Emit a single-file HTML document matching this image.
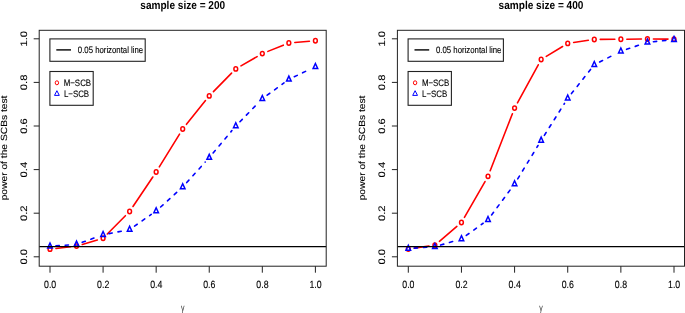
<!DOCTYPE html>
<html><head><meta charset="utf-8"><title>power of the SCBs test</title>
<style>html,body{margin:0;padding:0;background:#fff}svg{display:block}</style></head>
<body>
<svg width="685" height="313" viewBox="0 0 685 313" font-family="'Liberation Sans', Arial, sans-serif" fill="#000" text-rendering="geometricPrecision">
<rect width="685" height="313" fill="#fff"/>
<text transform="translate(182.7,9.2) scale(0.876,1)" text-anchor="middle" font-size="11.5" font-weight="bold">sample size = 200</text>
<line x1="55.96" y1="248.48" x2="70.58" y2="246.80" stroke="#ff0000" stroke-width="1.6" stroke-linecap="round"/>
<line x1="82.29" y1="244.42" x2="97.33" y2="239.97" stroke="#ff0000" stroke-width="1.6" stroke-linecap="round"/>
<line x1="107.30" y1="234.01" x2="125.40" y2="215.72" stroke="#ff0000" stroke-width="1.6" stroke-linecap="round"/>
<line x1="132.97" y1="206.48" x2="152.81" y2="176.98" stroke="#ff0000" stroke-width="1.6" stroke-linecap="round"/>
<line x1="159.31" y1="166.89" x2="179.55" y2="134.16" stroke="#ff0000" stroke-width="1.6" stroke-linecap="round"/>
<line x1="186.45" y1="124.37" x2="205.49" y2="100.60" stroke="#ff0000" stroke-width="1.6" stroke-linecap="round"/>
<line x1="213.44" y1="91.63" x2="231.58" y2="73.17" stroke="#ff0000" stroke-width="1.6" stroke-linecap="round"/>
<line x1="240.98" y1="65.89" x2="257.12" y2="56.61" stroke="#ff0000" stroke-width="1.6" stroke-linecap="round"/>
<line x1="267.89" y1="51.38" x2="283.29" y2="45.18" stroke="#ff0000" stroke-width="1.6" stroke-linecap="round"/>
<line x1="294.84" y1="42.45" x2="309.42" y2="41.25" stroke="#ff0000" stroke-width="1.6" stroke-linecap="round"/>
<ellipse cx="50.00" cy="249.17" rx="1.9" ry="2.2" fill="none" stroke="#ff0000" stroke-width="1.5"/>
<ellipse cx="76.54" cy="246.12" rx="1.9" ry="2.2" fill="none" stroke="#ff0000" stroke-width="1.5"/>
<ellipse cx="103.08" cy="238.27" rx="1.9" ry="2.2" fill="none" stroke="#ff0000" stroke-width="1.5"/>
<ellipse cx="129.62" cy="211.46" rx="1.9" ry="2.2" fill="none" stroke="#ff0000" stroke-width="1.5"/>
<ellipse cx="156.16" cy="172.00" rx="1.9" ry="2.2" fill="none" stroke="#ff0000" stroke-width="1.5"/>
<ellipse cx="182.70" cy="129.05" rx="1.9" ry="2.2" fill="none" stroke="#ff0000" stroke-width="1.5"/>
<ellipse cx="209.24" cy="95.92" rx="1.9" ry="2.2" fill="none" stroke="#ff0000" stroke-width="1.5"/>
<ellipse cx="235.78" cy="68.88" rx="1.9" ry="2.2" fill="none" stroke="#ff0000" stroke-width="1.5"/>
<ellipse cx="262.32" cy="53.62" rx="1.9" ry="2.2" fill="none" stroke="#ff0000" stroke-width="1.5"/>
<ellipse cx="288.86" cy="42.94" rx="1.9" ry="2.2" fill="none" stroke="#ff0000" stroke-width="1.5"/>
<ellipse cx="315.40" cy="40.76" rx="1.9" ry="2.2" fill="none" stroke="#ff0000" stroke-width="1.5"/>
<line x1="55.98" y1="245.89" x2="70.56" y2="244.82" stroke="#0000ff" stroke-width="1.6" stroke-linecap="round" stroke-dasharray="3.3 5.9"/>
<line x1="82.18" y1="242.33" x2="97.44" y2="236.82" stroke="#0000ff" stroke-width="1.6" stroke-linecap="round" stroke-dasharray="3.3 5.9"/>
<line x1="108.97" y1="233.62" x2="123.73" y2="230.71" stroke="#0000ff" stroke-width="1.6" stroke-linecap="round" stroke-dasharray="3.3 5.9"/>
<line x1="134.54" y1="226.12" x2="151.24" y2="214.45" stroke="#0000ff" stroke-width="1.6" stroke-linecap="round" stroke-dasharray="3.3 5.9"/>
<line x1="160.61" y1="207.00" x2="178.25" y2="191.06" stroke="#0000ff" stroke-width="1.6" stroke-linecap="round" stroke-dasharray="3.3 5.9"/>
<line x1="186.72" y1="182.58" x2="205.22" y2="162.07" stroke="#0000ff" stroke-width="1.6" stroke-linecap="round" stroke-dasharray="3.3 5.9"/>
<line x1="213.10" y1="153.01" x2="231.92" y2="130.60" stroke="#0000ff" stroke-width="1.6" stroke-linecap="round" stroke-dasharray="3.3 5.9"/>
<line x1="239.97" y1="121.70" x2="258.13" y2="103.05" stroke="#0000ff" stroke-width="1.6" stroke-linecap="round" stroke-dasharray="3.3 5.9"/>
<line x1="267.16" y1="95.21" x2="284.02" y2="82.89" stroke="#0000ff" stroke-width="1.6" stroke-linecap="round" stroke-dasharray="3.3 5.9"/>
<line x1="294.28" y1="76.77" x2="309.98" y2="69.28" stroke="#0000ff" stroke-width="1.6" stroke-linecap="round" stroke-dasharray="3.3 5.9"/>
<path d="M50.00 243.09 L52.30 248.09 L47.70 248.09 Z" fill="none" stroke="#0000ff" stroke-width="1.5" stroke-linejoin="miter"/>
<path d="M76.54 241.12 L78.84 246.12 L74.24 246.12 Z" fill="none" stroke="#0000ff" stroke-width="1.5" stroke-linejoin="miter"/>
<path d="M103.08 231.53 L105.38 236.53 L100.78 236.53 Z" fill="none" stroke="#0000ff" stroke-width="1.5" stroke-linejoin="miter"/>
<path d="M129.62 226.30 L131.92 231.30 L127.32 231.30 Z" fill="none" stroke="#0000ff" stroke-width="1.5" stroke-linejoin="miter"/>
<path d="M156.16 207.77 L158.46 212.77 L153.86 212.77 Z" fill="none" stroke="#0000ff" stroke-width="1.5" stroke-linejoin="miter"/>
<path d="M182.70 183.79 L185.00 188.79 L180.40 188.79 Z" fill="none" stroke="#0000ff" stroke-width="1.5" stroke-linejoin="miter"/>
<path d="M209.24 154.36 L211.54 159.36 L206.94 159.36 Z" fill="none" stroke="#0000ff" stroke-width="1.5" stroke-linejoin="miter"/>
<path d="M235.78 122.75 L238.08 127.75 L233.48 127.75 Z" fill="none" stroke="#0000ff" stroke-width="1.5" stroke-linejoin="miter"/>
<path d="M262.32 95.50 L264.62 100.50 L260.02 100.50 Z" fill="none" stroke="#0000ff" stroke-width="1.5" stroke-linejoin="miter"/>
<path d="M288.86 76.10 L291.16 81.10 L286.56 81.10 Z" fill="none" stroke="#0000ff" stroke-width="1.5" stroke-linejoin="miter"/>
<path d="M315.40 63.45 L317.70 68.45 L313.10 68.45 Z" fill="none" stroke="#0000ff" stroke-width="1.5" stroke-linejoin="miter"/>
<line x1="39.2" y1="246.70" x2="326.2" y2="246.70" stroke="#000" stroke-width="1.3"/>
<rect x="39.2" y="30.3" width="287.00" height="235.90" fill="none" stroke="#222" stroke-width="1.0"/>
<line x1="50.00" y1="266.2" x2="50.00" y2="272.7" stroke="#222" stroke-width="1.0"/>
<line x1="33.7" y1="256.80" x2="39.2" y2="256.80" stroke="#222" stroke-width="1.0"/>
<text transform="translate(50.10,288.2) scale(0.836,1)" text-anchor="middle" font-size="10.5" stroke="#000" stroke-width="0.12">0.0</text>
<text transform="translate(27.20,256.80) scale(0.84,1) rotate(-90)" text-anchor="middle" font-size="11.2" stroke="#000" stroke-width="0.12">0.0</text>
<line x1="103.08" y1="266.2" x2="103.08" y2="272.7" stroke="#222" stroke-width="1.0"/>
<line x1="33.7" y1="213.20" x2="39.2" y2="213.20" stroke="#222" stroke-width="1.0"/>
<text transform="translate(103.18,288.2) scale(0.836,1)" text-anchor="middle" font-size="10.5" stroke="#000" stroke-width="0.12">0.2</text>
<text transform="translate(27.20,213.20) scale(0.84,1) rotate(-90)" text-anchor="middle" font-size="11.2" stroke="#000" stroke-width="0.12">0.2</text>
<line x1="156.16" y1="266.2" x2="156.16" y2="272.7" stroke="#222" stroke-width="1.0"/>
<line x1="33.7" y1="169.60" x2="39.2" y2="169.60" stroke="#222" stroke-width="1.0"/>
<text transform="translate(156.26,288.2) scale(0.836,1)" text-anchor="middle" font-size="10.5" stroke="#000" stroke-width="0.12">0.4</text>
<text transform="translate(27.20,169.60) scale(0.84,1) rotate(-90)" text-anchor="middle" font-size="11.2" stroke="#000" stroke-width="0.12">0.4</text>
<line x1="209.24" y1="266.2" x2="209.24" y2="272.7" stroke="#222" stroke-width="1.0"/>
<line x1="33.7" y1="126.00" x2="39.2" y2="126.00" stroke="#222" stroke-width="1.0"/>
<text transform="translate(209.34,288.2) scale(0.836,1)" text-anchor="middle" font-size="10.5" stroke="#000" stroke-width="0.12">0.6</text>
<text transform="translate(27.20,126.00) scale(0.84,1) rotate(-90)" text-anchor="middle" font-size="11.2" stroke="#000" stroke-width="0.12">0.6</text>
<line x1="262.32" y1="266.2" x2="262.32" y2="272.7" stroke="#222" stroke-width="1.0"/>
<line x1="33.7" y1="82.40" x2="39.2" y2="82.40" stroke="#222" stroke-width="1.0"/>
<text transform="translate(262.42,288.2) scale(0.836,1)" text-anchor="middle" font-size="10.5" stroke="#000" stroke-width="0.12">0.8</text>
<text transform="translate(27.20,82.40) scale(0.84,1) rotate(-90)" text-anchor="middle" font-size="11.2" stroke="#000" stroke-width="0.12">0.8</text>
<line x1="315.40" y1="266.2" x2="315.40" y2="272.7" stroke="#222" stroke-width="1.0"/>
<line x1="33.7" y1="38.80" x2="39.2" y2="38.80" stroke="#222" stroke-width="1.0"/>
<text transform="translate(315.50,288.2) scale(0.836,1)" text-anchor="middle" font-size="10.5" stroke="#000" stroke-width="0.12">1.0</text>
<text transform="translate(27.20,38.80) scale(0.84,1) rotate(-90)" text-anchor="middle" font-size="11.2" stroke="#000" stroke-width="0.12">1.0</text>
<text transform="translate(6.50,147.95) scale(0.89,1.025) rotate(-90)" text-anchor="middle" font-size="10" stroke="#000" stroke-width="0.12">power of the SCBs test</text>
<text transform="translate(182.70,310.5) scale(0.7,1)" text-anchor="middle" font-size="10" fill="#333">γ</text>
<rect x="49.90" y="38.9" width="95.3" height="22.4" fill="#fff" stroke="#222" stroke-width="1.1"/>
<line x1="56.30" y1="49.9" x2="71.00" y2="49.9" stroke="#000" stroke-width="1.4"/>
<text transform="translate(77.80,53.4) scale(0.838,1)" font-size="9.3" stroke="#000" stroke-width="0.12">0.05 horizontal line</text>
<rect x="49.90" y="71.5" width="43.3" height="33.8" fill="#fff" stroke="#222" stroke-width="1.1"/>
<ellipse cx="56.90" cy="82.8" rx="1.7" ry="2.0" fill="none" stroke="#ff0000" stroke-width="1.0"/>
<path d="M56.90 90.70 L59.30 95.40 L54.50 95.40 Z" fill="none" stroke="#0000ff" stroke-width="1.0"/>
<text transform="translate(63.70,86.1) scale(0.848,1)" font-size="9.3" stroke="#000" stroke-width="0.12">M−SCB</text>
<text transform="translate(63.90,97.3) scale(0.848,1)" font-size="9.3" stroke="#000" stroke-width="0.12">L−SCB</text>
<text transform="translate(541.0,9.2) scale(0.876,1)" text-anchor="middle" font-size="11.5" font-weight="bold">sample size = 400</text>
<line x1="414.24" y1="248.12" x2="428.93" y2="246.07" stroke="#ff0000" stroke-width="1.6" stroke-linecap="round"/>
<line x1="439.43" y1="241.35" x2="456.88" y2="226.47" stroke="#ff0000" stroke-width="1.6" stroke-linecap="round"/>
<line x1="464.43" y1="217.37" x2="485.02" y2="181.56" stroke="#ff0000" stroke-width="1.6" stroke-linecap="round"/>
<line x1="490.19" y1="170.77" x2="512.40" y2="113.72" stroke="#ff0000" stroke-width="1.6" stroke-linecap="round"/>
<line x1="517.46" y1="102.86" x2="538.27" y2="64.77" stroke="#ff0000" stroke-width="1.6" stroke-linecap="round"/>
<line x1="546.28" y1="56.40" x2="562.59" y2="46.49" stroke="#ff0000" stroke-width="1.6" stroke-linecap="round"/>
<line x1="573.66" y1="42.50" x2="588.35" y2="40.33" stroke="#ff0000" stroke-width="1.6" stroke-linecap="round"/>
<line x1="600.29" y1="39.40" x2="614.86" y2="39.29" stroke="#ff0000" stroke-width="1.6" stroke-linecap="round"/>
<line x1="626.86" y1="39.19" x2="641.43" y2="39.07" stroke="#ff0000" stroke-width="1.6" stroke-linecap="round"/>
<line x1="653.43" y1="39.04" x2="668.00" y2="39.10" stroke="#ff0000" stroke-width="1.6" stroke-linecap="round"/>
<ellipse cx="408.30" cy="248.95" rx="1.9" ry="2.2" fill="none" stroke="#ff0000" stroke-width="1.5"/>
<ellipse cx="434.87" cy="245.25" rx="1.9" ry="2.2" fill="none" stroke="#ff0000" stroke-width="1.5"/>
<ellipse cx="461.44" cy="222.57" rx="1.9" ry="2.2" fill="none" stroke="#ff0000" stroke-width="1.5"/>
<ellipse cx="488.01" cy="176.36" rx="1.9" ry="2.2" fill="none" stroke="#ff0000" stroke-width="1.5"/>
<ellipse cx="514.58" cy="108.12" rx="1.9" ry="2.2" fill="none" stroke="#ff0000" stroke-width="1.5"/>
<ellipse cx="541.15" cy="59.51" rx="1.9" ry="2.2" fill="none" stroke="#ff0000" stroke-width="1.5"/>
<ellipse cx="567.72" cy="43.38" rx="1.9" ry="2.2" fill="none" stroke="#ff0000" stroke-width="1.5"/>
<ellipse cx="594.29" cy="39.45" rx="1.9" ry="2.2" fill="none" stroke="#ff0000" stroke-width="1.5"/>
<ellipse cx="620.86" cy="39.24" rx="1.9" ry="2.2" fill="none" stroke="#ff0000" stroke-width="1.5"/>
<ellipse cx="647.43" cy="39.02" rx="1.9" ry="2.2" fill="none" stroke="#ff0000" stroke-width="1.5"/>
<ellipse cx="674.00" cy="39.13" rx="1.9" ry="2.2" fill="none" stroke="#ff0000" stroke-width="1.5"/>
<line x1="414.29" y1="248.12" x2="428.88" y2="247.16" stroke="#0000ff" stroke-width="1.6" stroke-linecap="round" stroke-dasharray="3.3 5.9"/>
<line x1="440.62" y1="245.07" x2="455.69" y2="240.62" stroke="#0000ff" stroke-width="1.6" stroke-linecap="round" stroke-dasharray="3.3 5.9"/>
<line x1="466.30" y1="235.41" x2="483.15" y2="223.25" stroke="#0000ff" stroke-width="1.6" stroke-linecap="round" stroke-dasharray="3.3 5.9"/>
<line x1="491.59" y1="214.92" x2="511.00" y2="188.80" stroke="#0000ff" stroke-width="1.6" stroke-linecap="round" stroke-dasharray="3.3 5.9"/>
<line x1="517.70" y1="178.86" x2="538.03" y2="145.51" stroke="#0000ff" stroke-width="1.6" stroke-linecap="round" stroke-dasharray="3.3 5.9"/>
<line x1="544.35" y1="135.31" x2="564.52" y2="103.39" stroke="#0000ff" stroke-width="1.6" stroke-linecap="round" stroke-dasharray="3.3 5.9"/>
<line x1="571.44" y1="93.61" x2="590.57" y2="69.45" stroke="#0000ff" stroke-width="1.6" stroke-linecap="round" stroke-dasharray="3.3 5.9"/>
<line x1="599.64" y1="62.02" x2="615.51" y2="53.95" stroke="#0000ff" stroke-width="1.6" stroke-linecap="round" stroke-dasharray="3.3 5.9"/>
<line x1="626.55" y1="49.31" x2="641.74" y2="44.20" stroke="#0000ff" stroke-width="1.6" stroke-linecap="round" stroke-dasharray="3.3 5.9"/>
<line x1="653.40" y1="41.70" x2="668.03" y2="40.26" stroke="#0000ff" stroke-width="1.6" stroke-linecap="round" stroke-dasharray="3.3 5.9"/>
<path d="M408.30 245.27 L410.60 250.27 L406.00 250.27 Z" fill="none" stroke="#0000ff" stroke-width="1.5" stroke-linejoin="miter"/>
<path d="M434.87 243.52 L437.17 248.52 L432.57 248.52 Z" fill="none" stroke="#0000ff" stroke-width="1.5" stroke-linejoin="miter"/>
<path d="M461.44 235.67 L463.74 240.67 L459.14 240.67 Z" fill="none" stroke="#0000ff" stroke-width="1.5" stroke-linejoin="miter"/>
<path d="M488.01 216.49 L490.31 221.49 L485.71 221.49 Z" fill="none" stroke="#0000ff" stroke-width="1.5" stroke-linejoin="miter"/>
<path d="M514.58 180.74 L516.88 185.74 L512.28 185.74 Z" fill="none" stroke="#0000ff" stroke-width="1.5" stroke-linejoin="miter"/>
<path d="M541.15 137.14 L543.45 142.14 L538.85 142.14 Z" fill="none" stroke="#0000ff" stroke-width="1.5" stroke-linejoin="miter"/>
<path d="M567.72 95.06 L570.02 100.06 L565.42 100.06 Z" fill="none" stroke="#0000ff" stroke-width="1.5" stroke-linejoin="miter"/>
<path d="M594.29 61.49 L596.59 66.49 L591.99 66.49 Z" fill="none" stroke="#0000ff" stroke-width="1.5" stroke-linejoin="miter"/>
<path d="M620.86 47.98 L623.16 52.98 L618.56 52.98 Z" fill="none" stroke="#0000ff" stroke-width="1.5" stroke-linejoin="miter"/>
<path d="M647.43 39.04 L649.73 44.04 L645.13 44.04 Z" fill="none" stroke="#0000ff" stroke-width="1.5" stroke-linejoin="miter"/>
<path d="M674.00 36.42 L676.30 41.42 L671.70 41.42 Z" fill="none" stroke="#0000ff" stroke-width="1.5" stroke-linejoin="miter"/>
<line x1="397.4" y1="246.70" x2="684.5" y2="246.70" stroke="#000" stroke-width="1.3"/>
<rect x="397.4" y="30.3" width="287.10" height="235.90" fill="none" stroke="#222" stroke-width="1.0"/>
<line x1="408.30" y1="266.2" x2="408.30" y2="272.7" stroke="#222" stroke-width="1.0"/>
<line x1="391.9" y1="256.80" x2="397.4" y2="256.80" stroke="#222" stroke-width="1.0"/>
<text transform="translate(408.40,288.2) scale(0.836,1)" text-anchor="middle" font-size="10.5" stroke="#000" stroke-width="0.12">0.0</text>
<text transform="translate(385.40,256.80) scale(0.84,1) rotate(-90)" text-anchor="middle" font-size="11.2" stroke="#000" stroke-width="0.12">0.0</text>
<line x1="461.44" y1="266.2" x2="461.44" y2="272.7" stroke="#222" stroke-width="1.0"/>
<line x1="391.9" y1="213.20" x2="397.4" y2="213.20" stroke="#222" stroke-width="1.0"/>
<text transform="translate(461.54,288.2) scale(0.836,1)" text-anchor="middle" font-size="10.5" stroke="#000" stroke-width="0.12">0.2</text>
<text transform="translate(385.40,213.20) scale(0.84,1) rotate(-90)" text-anchor="middle" font-size="11.2" stroke="#000" stroke-width="0.12">0.2</text>
<line x1="514.58" y1="266.2" x2="514.58" y2="272.7" stroke="#222" stroke-width="1.0"/>
<line x1="391.9" y1="169.60" x2="397.4" y2="169.60" stroke="#222" stroke-width="1.0"/>
<text transform="translate(514.68,288.2) scale(0.836,1)" text-anchor="middle" font-size="10.5" stroke="#000" stroke-width="0.12">0.4</text>
<text transform="translate(385.40,169.60) scale(0.84,1) rotate(-90)" text-anchor="middle" font-size="11.2" stroke="#000" stroke-width="0.12">0.4</text>
<line x1="567.72" y1="266.2" x2="567.72" y2="272.7" stroke="#222" stroke-width="1.0"/>
<line x1="391.9" y1="126.00" x2="397.4" y2="126.00" stroke="#222" stroke-width="1.0"/>
<text transform="translate(567.82,288.2) scale(0.836,1)" text-anchor="middle" font-size="10.5" stroke="#000" stroke-width="0.12">0.6</text>
<text transform="translate(385.40,126.00) scale(0.84,1) rotate(-90)" text-anchor="middle" font-size="11.2" stroke="#000" stroke-width="0.12">0.6</text>
<line x1="620.86" y1="266.2" x2="620.86" y2="272.7" stroke="#222" stroke-width="1.0"/>
<line x1="391.9" y1="82.40" x2="397.4" y2="82.40" stroke="#222" stroke-width="1.0"/>
<text transform="translate(620.96,288.2) scale(0.836,1)" text-anchor="middle" font-size="10.5" stroke="#000" stroke-width="0.12">0.8</text>
<text transform="translate(385.40,82.40) scale(0.84,1) rotate(-90)" text-anchor="middle" font-size="11.2" stroke="#000" stroke-width="0.12">0.8</text>
<line x1="674.00" y1="266.2" x2="674.00" y2="272.7" stroke="#222" stroke-width="1.0"/>
<line x1="391.9" y1="38.80" x2="397.4" y2="38.80" stroke="#222" stroke-width="1.0"/>
<text transform="translate(674.10,288.2) scale(0.836,1)" text-anchor="middle" font-size="10.5" stroke="#000" stroke-width="0.12">1.0</text>
<text transform="translate(385.40,38.80) scale(0.84,1) rotate(-90)" text-anchor="middle" font-size="11.2" stroke="#000" stroke-width="0.12">1.0</text>
<text transform="translate(364.70,147.95) scale(0.89,1.025) rotate(-90)" text-anchor="middle" font-size="10" stroke="#000" stroke-width="0.12">power of the SCBs test</text>
<text transform="translate(540.95,310.5) scale(0.7,1)" text-anchor="middle" font-size="10" fill="#333">γ</text>
<rect x="408.10" y="38.9" width="95.3" height="22.4" fill="#fff" stroke="#222" stroke-width="1.1"/>
<line x1="414.50" y1="49.9" x2="429.20" y2="49.9" stroke="#000" stroke-width="1.4"/>
<text transform="translate(436.00,53.4) scale(0.838,1)" font-size="9.3" stroke="#000" stroke-width="0.12">0.05 horizontal line</text>
<rect x="408.10" y="71.5" width="43.3" height="33.8" fill="#fff" stroke="#222" stroke-width="1.1"/>
<ellipse cx="415.10" cy="82.8" rx="1.7" ry="2.0" fill="none" stroke="#ff0000" stroke-width="1.0"/>
<path d="M415.10 90.70 L417.50 95.40 L412.70 95.40 Z" fill="none" stroke="#0000ff" stroke-width="1.0"/>
<text transform="translate(421.90,86.1) scale(0.848,1)" font-size="9.3" stroke="#000" stroke-width="0.12">M−SCB</text>
<text transform="translate(422.10,97.3) scale(0.848,1)" font-size="9.3" stroke="#000" stroke-width="0.12">L−SCB</text>
</svg>
</body></html>
